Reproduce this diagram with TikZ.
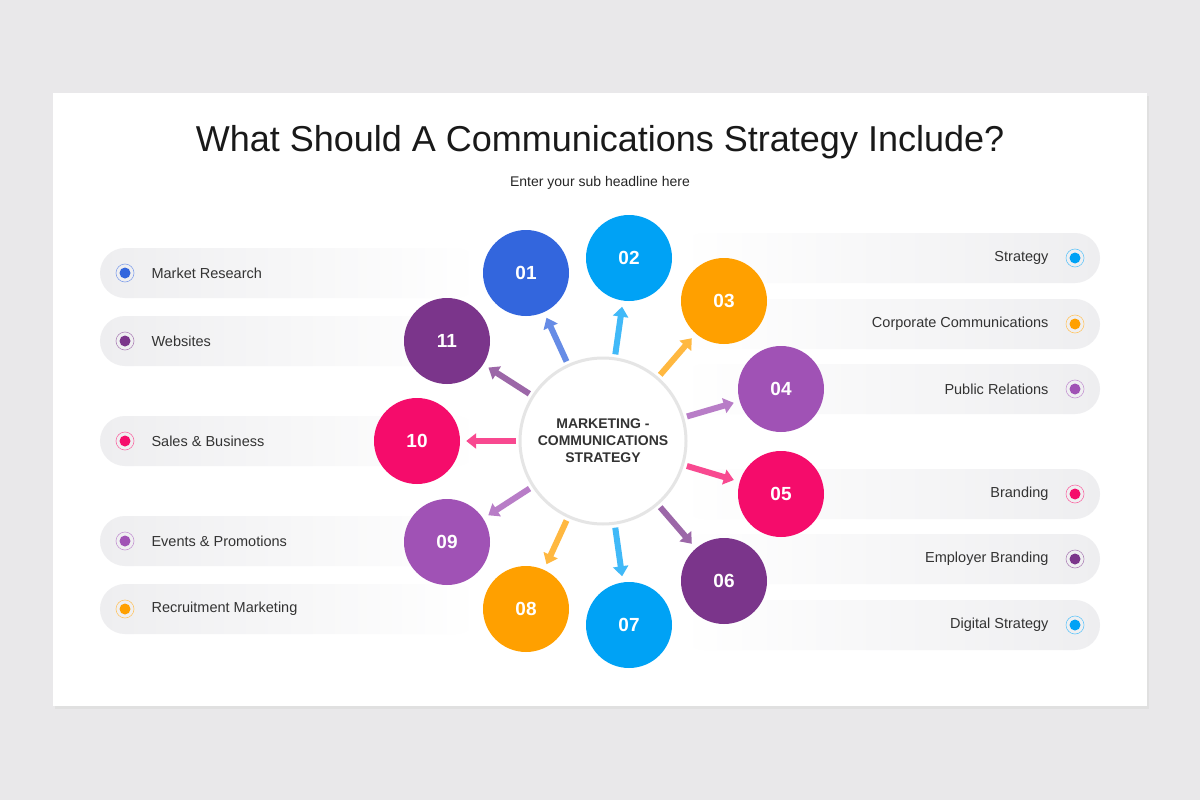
\documentclass[tikz,border=0pt]{standalone}
\usepackage{fontspec}
\setmainfont{Liberation Sans}
\usetikzlibrary{arrows.meta}
\definecolor{bg}{HTML}{E9E8EA}
\definecolor{cA}{HTML}{3366DD}
\definecolor{cB}{HTML}{00A2F5}
\definecolor{cC}{HTML}{FFA000}
\definecolor{cD}{HTML}{A052B5}
\definecolor{cE}{HTML}{F50C6B}
\definecolor{cF}{HTML}{7B358B}
\definecolor{pill}{HTML}{EEEEF0}
\definecolor{txt}{HTML}{333333}
\tikzset{
 num/.style={circle,minimum size=86pt,inner sep=0,fill=#1,text=white,font=\bfseries\fontsize{19}{19}\selectfont},
 arr/.style={line width=6pt,draw=#1!75,-{Triangle[width=15pt,length=10pt]},shorten <=3pt,shorten >=6pt},
 lbl/.style={font=\fontsize{14.5}{15}\selectfont,text=txt},
}
\newcommand{\lpill}[4]{% y, color, text, name
 \path[left color=pill,right color=white,rounded corners=25pt] (100,#1-25) rectangle (480,#1+25);
 \node[circle,fill=#2,minimum size=11pt,inner sep=0] (#4d) at (125,#1) {};
 \draw[#2!60,line width=0.6pt] (125,#1) circle (9pt);
 \node[lbl,anchor=west] (#4) at (148,#1) {#3};}
\newcommand{\rpill}[4]{%
 \path[right color=pill,left color=white,rounded corners=25pt] (680,#1-25) rectangle (1100,#1+25);
 \node[circle,fill=#2,minimum size=11pt,inner sep=0] (#4d) at (1075,#1) {};
 \draw[#2!60,line width=0.6pt] (1075,#1) circle (9pt);
 \node[lbl,anchor=east] (#4) at (1052,#1) {#3};}
\begin{document}
\begin{tikzpicture}[x=1pt,y=-1pt]
\useasboundingbox (0,0) rectangle (1200,800);
\fill[bg] (0,0) rectangle (1200,800);
\fill[black!12] (55,96) rectangle (1149,709);
\fill[white] (53,93) rectangle (1147,706);
\node[font=\fontsize{36}{36}\selectfont,text=black!90] (title) at (600,142) {What Should A Communications Strategy Include?};
\node[font=\fontsize{14}{14}\selectfont,text=black!85] (sub) at (600,183) {Enter your sub headline here};
\lpill{273}{cA}{Market Research}{l1}
\lpill{341}{cF}{Websites}{l2}
\lpill{441}{cE}{Sales \& Business}{l3}
\lpill{541}{cD}{Events \& Promotions}{l4}
\lpill{609}{cC}{Recruitment Marketing}{l5}
\rpill{258}{cB}{Strategy}{r1}
\rpill{324}{cC}{Corporate Communications}{r2}
\rpill{389}{cD}{Public Relations}{r3}
\rpill{494}{cE}{Branding}{r4}
\rpill{559}{cF}{Employer Branding}{r5}
\rpill{625}{cB}{Digital Strategy}{r6}
\node[circle,fill=white,draw=black!10,line width=3pt,minimum size=166pt,align=center,font=\bfseries\fontsize{14}{17}\selectfont,text=txt] (c) at (603,441) {MARKETING -\\COMMUNICATIONS\\STRATEGY};
\node[num=cA] (n1) at (526,273) {01};
\node[num=cB] (n2) at (629,258) {02};
\node[num=cC] (n3) at (724,301) {03};
\node[num=cD] (n4) at (781,389) {04};
\node[num=cE] (n5) at (781,494) {05};
\node[num=cF] (n6) at (724,581) {06};
\node[num=cB] (n7) at (629,625) {07};
\node[num=cC] (n8) at (526,609) {08};
\node[num=cD] (n9) at (447,542) {09};
\node[num=cE] (n10) at (417,441) {10};
\node[num=cF] (n11) at (447,341) {11};
\draw[arr=cA] (c) -- (n1);
\draw[arr=cB] (c) -- (n2);
\draw[arr=cC] (c) -- (n3);
\draw[arr=cD] (c) -- (n4);
\draw[arr=cE] (c) -- (n5);
\draw[arr=cF] (c) -- (n6);
\draw[arr=cB] (c) -- (n7);
\draw[arr=cC] (c) -- (n8);
\draw[arr=cD] (c) -- (n9);
\draw[arr=cE] (c) -- (n10);
\draw[arr=cF] (c) -- (n11);
\end{tikzpicture}
\end{document}
